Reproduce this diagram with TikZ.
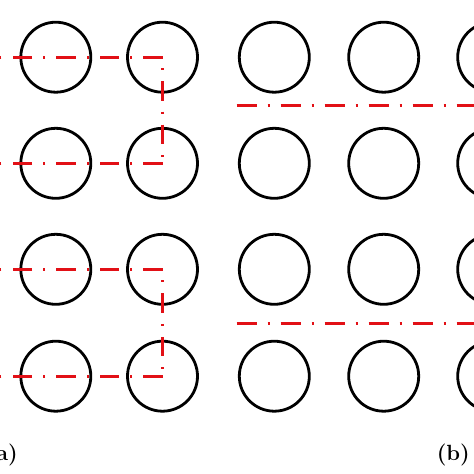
\documentclass[tikz,border=0pt]{standalone}
\begin{document}
\begin{tikzpicture}[x=1pt,y=-1pt,
  ring/.style={circle,draw=black,line width=2.8pt,minimum size=70pt,inner sep=0pt},
  axisA/.style={draw=redline,line width=2.6pt,dash pattern=on 19.5pt off 11pt on 2pt off 11pt},
  axisB/.style={draw=redline,line width=2.6pt,dash pattern=on 20.5pt off 10.5pt on 2pt off 11pt},
  lab/.style={inner sep=0pt,font=\fontsize{22}{26}\selectfont\bfseries}]
\definecolor{redline}{RGB}{226,16,22}
\path[use as bounding box,clip] (0,0) rectangle (474,474);
\fill[white] (0,0) rectangle (474,474);
% circles
\foreach \r/\y in {1/57.2,2/163.3,3/269.3,4/376.2}{
  \foreach \c/\x in {1/55.8,2/162.5,3/274.3,4/383.7,5/492.7}{
    \node[ring] (c\r\c) at (\x,\y) {};
  }
}
% panel (a) axes
\coordinate (a1) at (0,57.2);
\coordinate (a2) at (0,163.3);
\coordinate (a3) at (0,269.3);
\coordinate (a4) at (0,376.2);
\path[axisA] (c12.center) -- (a1);
\path[axisA,dash phase=19.5pt] (c12.center) -- (c22.center);
\path[axisA] (c22.center) -- (a2);
\path[axisA] (c32.center) -- (a3);
\path[axisA,dash phase=19.5pt] (c32.center) -- (c42.center);
\path[axisA] (c42.center) -- (a4);
% panel (b) axes
\coordinate (b1s) at (236.7,105.7);
\coordinate (b1e) at (480,105.7);
\coordinate (b2s) at (236.7,323.3);
\coordinate (b2e) at (480,323.3);
\path[axisB] (b1s) -- (b1e);
\path[axisB] (b2s) -- (b2e);
% labels
\node[lab,anchor=base east] (la) at (18,460) {(a)};
\node[lab,anchor=base east] (lb) at (470,460) {(b)};
\end{tikzpicture}
\end{document}
